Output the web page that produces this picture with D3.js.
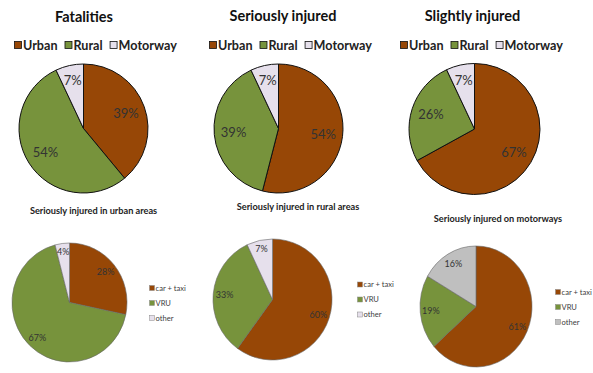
<!DOCTYPE html>
<html>
<head>
<meta charset="utf-8">
<script src="https://cdn.jsdelivr.net/npm/d3@7"></script>
<style>
  body { margin: 0; background: #fff; }
  svg { display: block; font-family: Lato, 'Open Sans', sans-serif; }
</style>
</head>
<body>
<div class="svgcontainer"></div>
<script>
// data
const topCategories = ['Urban', 'Rural', 'Motorway'];
const fatalities = [39, 54, 7];
const seriouslyInjured = [54, 39, 7];
const slightlyInjured = [67, 26, 7];

const bottomCategories = ['car + taxi', 'VRU', 'other'];
const seriousUrban = [28, 67, 4];
const seriousRural = [60, 33, 7];
const seriousMotorway = [61, 19, 16];

const brown = '#974706';
const green = '#77933c';
const lilac = '#e6e0ec';
const grey = '#bfbfbf';

// layout of the six pies
const topPies = [
  {title: 'Fatalities', values: fatalities, tx: 84, ty: 22, lx: 14, cx: 83.5, cy: 128.5, rx: 64.5, ry: 64.5},
  {title: 'Seriously injured', values: seriouslyInjured, tx: 283, ty: 21, lx: 209, cx: 278.5, cy: 128.5, rx: 64.5, ry: 64.5},
  {title: 'Slightly injured', values: slightlyInjured, tx: 472.5, ty: 21, lx: 400, cx: 474.5, cy: 129, rx: 65.5, ry: 65.5},
];
const bottomPies = [
  {title: 'Seriously injured in urban areas', values: seriousUrban, colors: [brown, green, lilac],
    tx: 93.5, ty: 214, lx: 149, ly: 288, cx: 69.5, cy: 302.5, rx: 57.5, ry: 59.5},
  {title: 'Seriously injured in rural areas', values: seriousRural, colors: [brown, green, lilac],
    tx: 298, ty: 209.5, lx: 357, ly: 284.5, cx: 272.5, cy: 299.5, rx: 59.5, ry: 60.5},
  {title: 'Seriously injured on motorways', values: seriousMotorway, colors: [brown, green, grey],
    tx: 498, ty: 222, lx: 555, ly: 292, cx: 476, cy: 306.5, rx: 56, ry: 60.5},
];

const svg = d3
  .select('.svgcontainer')
  .append('svg')
  .attr('width', 593)
  .attr('height', 373);

const pie = d3.pie().sort(null).value(d => d);

function drawPie(p, colors, stroke, strokeWidth, labelK, smallK, fontSize) {
  const color = d3.scaleOrdinal().domain(d3.range(3)).range(colors);
  const arcs = pie(p.values);
  const arc = d3.arc().innerRadius(0).outerRadius(p.rx);

  const g = svg.append('g').attr('transform', `translate(${p.cx},${p.cy})`);
  g.append('g')
    .attr('transform', `scale(1,${p.ry / p.rx})`)
    .selectAll('path')
    .data(arcs)
    .enter()
    .append('path')
    .attr('d', arc)
    .attr('fill', (d, i) => color(i))
    .attr('stroke', stroke)
    .attr('stroke-width', strokeWidth)
    .attr('vector-effect', 'non-scaling-stroke')
    .attr('stroke-linejoin', 'round');

  g.selectAll('.lbl')
    .data(arcs)
    .enter()
    .append('text')
    .attr('class', 'lbl')
    .attr('transform', function(d) {
      const k = d.value < 10 ? smallK : labelK;
      const c = d3.arc().innerRadius(p.rx * k).outerRadius(p.rx * k).centroid(d);
      return `translate(${c[0]},${c[1] * p.ry / p.rx})`;
    })
    .attr('dy', '0.35em')
    .attr('text-anchor', 'middle')
    .style('font-size', fontSize + 'px')
    .attr('fill', '#333')
    .text(d => d.value + '%');
}

// top row
topPies.forEach(function(p) {
  drawPie(p, [brown, green, lilac], '#111', 1, 0.7, 0.76, 13);

  svg.append('text')
    .attr('x', p.tx)
    .attr('y', p.ty)
    .attr('text-anchor', 'middle')
    .style('font-size', '14.5px')
    .style('font-weight', 'bold')
    .attr('fill', '#111')
    .text(p.title);

  let x = p.lx;
  topCategories.forEach(function(c, i) {
    svg.append('rect')
      .attr('x', x + 0.5)
      .attr('y', 41.5)
      .attr('width', 7)
      .attr('height', 7)
      .attr('fill', [brown, green, lilac][i])
      .attr('stroke', '#111')
      .attr('stroke-width', 0.8);
    const t = svg.append('text')
      .attr('x', x + 9)
      .attr('y', 50)
      .style('font-size', '12.6px')
      .style('font-weight', 'bold')
      .attr('fill', '#222')
      .text(c);
    x += 9 + t.node().getComputedTextLength() + 7;
  });
});

// bottom row
bottomPies.forEach(function(p) {
  drawPie(p, p.colors, '#666', 0.6, 0.81, 0.85, 9);

  svg.append('text')
    .attr('x', p.tx)
    .attr('y', p.ty)
    .attr('text-anchor', 'middle')
    .style('font-size', '9.2px')
    .style('font-weight', 'bold')
    .attr('fill', '#222')
    .text(p.title);

  const legend = svg.selectAll(null)
    .data(bottomCategories)
    .enter()
    .append('g')
    .attr('transform', (d, i) => `translate(${p.lx},${p.ly + i * 15})`);

  legend.append('rect')
    .attr('x', 0.5)
    .attr('y', -2.5)
    .attr('width', 5)
    .attr('height', 5)
    .attr('fill', (d, i) => p.colors[i])
    .attr('stroke', '#888')
    .attr('stroke-width', 0.5);

  legend.append('text')
    .attr('x', 6.5)
    .attr('dy', '0.35em')
    .style('font-size', '7.6px')
    .attr('fill', '#404040')
    .text(d => d);
});
</script>
</body>
</html>
